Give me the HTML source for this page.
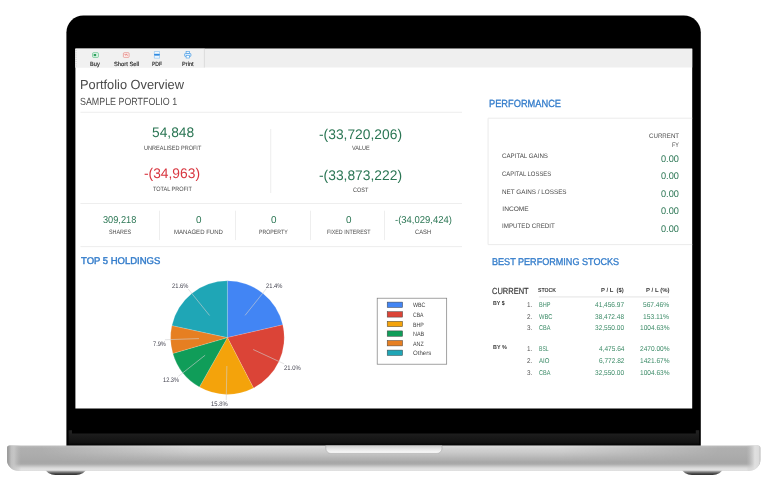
<!DOCTYPE html>
<html lang="en">
<head>
<meta charset="utf-8">
<title>Portfolio Overview</title>
<style>
html,body{margin:0;padding:0;background:#fff;}
body{width:768px;height:499px;position:relative;overflow:hidden;font-family:"Liberation Sans",sans-serif;}
.abs{position:absolute;}
.t{position:absolute;transform-origin:0 0;white-space:pre;line-height:1;text-rendering:geometricPrecision;font-family:"Liberation Sans",sans-serif;}
</style>
</head>
<body>
<svg class="abs" style="left:0;top:0" width="768" height="499" viewBox="0 0 768 499">
 <defs>
  <linearGradient id="gb" x1="0" y1="0" x2="0" y2="1">
   <stop offset="0" stop-color="#c0c0c0"/><stop offset=".045" stop-color="#b6b6b6"/><stop offset=".1" stop-color="#afafaf"/><stop offset=".3" stop-color="#adadad"/>
   <stop offset=".5" stop-color="#aaaaaa"/><stop offset=".64" stop-color="#a7a7a7"/><stop offset=".73" stop-color="#a9a9a9"/>
   <stop offset=".81" stop-color="#c2c2c2"/><stop offset=".89" stop-color="#dadada"/><stop offset=".96" stop-color="#e2e2e2"/><stop offset="1" stop-color="#d0d0d0"/>
  </linearGradient>
  <linearGradient id="gc" x1="0" y1="0" x2="0" y2="1">
   <stop offset="0" stop-color="#fff" stop-opacity=".42"/><stop offset=".08" stop-color="#fff" stop-opacity=".5"/><stop offset=".4" stop-color="#fff" stop-opacity=".36"/>
   <stop offset=".7" stop-color="#fff" stop-opacity=".16"/><stop offset="1" stop-color="#fff" stop-opacity="0"/>
  </linearGradient>
  <linearGradient id="gm" gradientUnits="userSpaceOnUse" x1="0" y1="0" x2="768" y2="0">
   <stop offset="0.05" stop-color="#000"/><stop offset=".25" stop-color="#fff"/><stop offset=".73" stop-color="#fff"/><stop offset=".94" stop-color="#000"/>
  </linearGradient>
  <mask id="mk" maskUnits="userSpaceOnUse" x="0" y="440" width="768" height="40"><rect x="0" y="440" width="768" height="40" fill="url(#gm)"/></mask>
  <linearGradient id="gl" x1="0" y1="0" x2="1" y2="0">
   <stop offset="0" stop-color="#9a9a9a" stop-opacity="1"/><stop offset=".12" stop-color="#a2a2a2" stop-opacity="1"/><stop offset=".3" stop-color="#c0c0c0" stop-opacity="1"/>
   <stop offset=".5" stop-color="#c8c8c8" stop-opacity=".9"/><stop offset=".75" stop-color="#c2c2c2" stop-opacity=".45"/><stop offset="1" stop-color="#b8b8b8" stop-opacity="0"/>
  </linearGradient>
  <linearGradient id="gr" x1="1" y1="0" x2="0" y2="0">
   <stop offset="0" stop-color="#c2c2c2" stop-opacity="1"/><stop offset=".14" stop-color="#dcdcdc" stop-opacity="1"/>
   <stop offset=".4" stop-color="#e2e2e2" stop-opacity=".95"/><stop offset=".7" stop-color="#d2d2d2" stop-opacity=".5"/><stop offset="1" stop-color="#c0c0c0" stop-opacity="0"/>
  </linearGradient>
  <linearGradient id="gh" x1="0" y1="0" x2="0" y2="1"><stop offset="0" stop-color="#222"/><stop offset=".3" stop-color="#1c1c1c"/><stop offset=".8" stop-color="#121212"/><stop offset="1" stop-color="#030303"/></linearGradient>
  <linearGradient id="gf" x1="0" y1="0" x2="0" y2="1"><stop offset="0" stop-color="#b8b8b8"/><stop offset=".3" stop-color="#9a9a9a"/><stop offset=".62" stop-color="#555"/><stop offset="1" stop-color="#2e2e2e"/></linearGradient>
  <linearGradient id="gn" x1="0" y1="0" x2="0" y2="1"><stop offset="0" stop-color="#d0d0d0"/><stop offset=".45" stop-color="#e6e6e6"/><stop offset=".8" stop-color="#f5f5f5"/><stop offset="1" stop-color="#fafafa"/></linearGradient>
  <clipPath id="cb"><path d="M9.5,445.5H757.9a2.5,2.5 0 0 1 2.5,2.5V459.8a11,11 0 0 1 -11,11H18a11,11 0 0 1 -11,-11V448a2.5,2.5 0 0 1 2.5,-2.5Z"/></clipPath>
 </defs>
 <!-- lid -->
 <path d="M66.4,446.5V32.4a17,17 0 0 1 17,-17H683.8a17,17 0 0 1 17,17V446.5Z" fill="#000"/>
 <path d="M68.6,430.3h3.4v3.3H695.8v-3.3h3.3V443.4a2,2 0 0 1 -2,2H70.6a2,2 0 0 1 -2,-2Z" fill="url(#gh)"/>
 <!-- feet -->
 <path d="M45.5,470.2h40.5c-2.5,3.2 -6,4.8 -12,4.8h-16.5c-6,0 -9.5,-1.6 -12,-4.8Z" fill="url(#gf)"/>
 <path d="M682,470.2h40.5c-2.5,3.2 -6,4.8 -12,4.8h-16.5c-6,0 -9.5,-1.6 -12,-4.8Z" fill="url(#gf)"/>
 <!-- base -->
 <path d="M9.5,445.5H757.9a2.5,2.5 0 0 1 2.5,2.5V459.8a11,11 0 0 1 -11,11H18a11,11 0 0 1 -11,-11V448a2.5,2.5 0 0 1 2.5,-2.5Z" fill="url(#gb)"/>
 <g clip-path="url(#cb)">
  <rect x="7" y="445.3" width="754" height="17.2" fill="url(#gc)" mask="url(#mk)"/>
  <rect x="7" y="445" width="14" height="27" fill="url(#gl)"/>
  <rect x="746.4" y="445" width="14" height="27" fill="url(#gr)"/>
 </g>
 <!-- notch -->
 <path d="M325.8,445.5H442v2.9a5,5 0 0 1 -5,5H330.8a5,5 0 0 1 -5,-5Z" fill="url(#gn)" stroke="#9c9c9c" stroke-width=".5"/>
 <!-- screen -->
 <rect x="75.4" y="48.7" width="616.8" height="359.8" fill="#fff"/>
 <!-- toolbar -->
 <rect x="75.4" y="48.7" width="616.8" height="18.8" fill="#efefef"/>
 <rect x="75.4" y="48.7" width="128.8" height="18.8" fill="#f1f1f1"/>
 <rect x="203.9" y="48.7" width="0.9" height="18.8" fill="#dadada"/>
 <!-- grip -->
 <g fill="#b5b5b5">
  <rect x="75.6" y="50.2" width="0.8" height="0.8"/><rect x="75.6" y="52.4" width="0.8" height="0.8"/><rect x="75.6" y="54.6" width="0.8" height="0.8"/><rect x="75.6" y="56.8" width="0.8" height="0.8"/><rect x="75.6" y="59" width="0.8" height="0.8"/><rect x="75.6" y="61.2" width="0.8" height="0.8"/><rect x="75.6" y="63.4" width="0.8" height="0.8"/><rect x="75.6" y="65.6" width="0.8" height="0.8"/>
 </g>
 <!-- buy icon -->
 <rect x="92.6" y="52.7" width="5.8" height="4.7" rx="0.9" fill="#e6f8ed" stroke="#4dbd7c" stroke-width="0.65"/>
 <rect x="93.7" y="54" width="2.5" height="2.1" fill="#2f9f5e"/>
 <!-- short sell icon -->
 <rect x="123.4" y="52.7" width="5.7" height="4.7" rx="0.9" fill="#fdf0ef" stroke="#e2827c" stroke-width="0.65"/>
 <path d="M124.6 53.9 L125.8 55.3 L126.6 54.3 L127.8 55.4" fill="none" stroke="#d9534f" stroke-width="0.75"/>
 <!-- pdf icon -->
 <path d="M154.4 51.5h5.1v2.4h-5.1zM154.4 55.6h5.1v2.6h-5.1z" fill="#f4f9fe" stroke="#6db4ee" stroke-width="0.5"/>
 <rect x="154.1" y="54" width="5.7" height="1.5" fill="#2f8ae2"/>
 <!-- print icon -->
 <rect x="186.1" y="51.4" width="3.3" height="2.2" fill="#fff" stroke="#4a9fe6" stroke-width="0.65"/>
 <rect x="184.6" y="53.4" width="6.3" height="3.1" rx="0.9" fill="#dcecfb" stroke="#3f97e3" stroke-width="0.7"/>
 <rect x="186.1" y="55.4" width="3.3" height="2.6" fill="#fff" stroke="#4a9fe6" stroke-width="0.65"/>

 <!-- dividers -->
 <g fill="#ececec">
  <rect x="80.4" y="111.8" width="381.6" height="0.9"/>
  <rect x="80.4" y="203.0" width="381.6" height="0.9"/>
  <rect x="80.4" y="246.2" width="381.6" height="0.9"/>
  <rect x="270.3" y="129" width="0.9" height="64"/>
  <rect x="159.0" y="210.7" width="0.9" height="29.4"/>
  <rect x="235.1" y="210.7" width="0.9" height="29.4"/>
  <rect x="310.1" y="210.7" width="0.9" height="29.4"/>
  <rect x="384.0" y="210.7" width="0.9" height="29.4"/>
 </g>
 <!-- performance box -->
 <path d="M692.2,118.2H488.1V244.6H692.2" fill="none" stroke="#e9e9e9" stroke-width="0.9"/>
 <!-- table underline -->
 <rect x="538.9" y="296.5" width="130.2" height="0.9" fill="#e0e0e0"/>

 <!-- pie -->
 <path d="M227.40,337.60L227.40,280.80A56.8,56.8 0 0 1 282.75,324.86Z" fill="#4285f4" stroke="rgba(255,255,255,0.35)" stroke-width="0.45"/>
<path d="M227.40,337.60L282.75,324.86A56.8,56.8 0 0 1 253.50,388.05Z" fill="#db4437" stroke="rgba(255,255,255,0.35)" stroke-width="0.45"/>
<path d="M227.40,337.60L253.50,388.05A56.8,56.8 0 0 1 199.41,387.03Z" fill="#f4a30b" stroke="rgba(255,255,255,0.35)" stroke-width="0.45"/>
<path d="M227.40,337.60L199.41,387.03A56.8,56.8 0 0 1 172.86,353.45Z" fill="#109d59" stroke="rgba(255,255,255,0.35)" stroke-width="0.45"/>
<path d="M227.40,337.60L172.86,353.45A56.8,56.8 0 0 1 171.89,325.56Z" fill="#e67f22" stroke="rgba(255,255,255,0.35)" stroke-width="0.45"/>
<path d="M227.40,337.60L171.89,325.56A56.8,56.8 0 0 1 227.40,280.80Z" fill="#1fa6b6" stroke="rgba(255,255,255,0.35)" stroke-width="0.45"/>
<line x1="245.09" y1="315.38" x2="266.31" y2="288.72" stroke="#d0d0d0" stroke-width="0.6"/>
<line x1="253.17" y1="349.53" x2="284.10" y2="363.85" stroke="#d0d0d0" stroke-width="0.6"/>
<line x1="226.86" y1="365.99" x2="226.22" y2="400.07" stroke="#d0d0d0" stroke-width="0.6"/>
<line x1="205.12" y1="355.22" x2="178.39" y2="376.36" stroke="#d0d0d0" stroke-width="0.6"/>
<line x1="199.02" y1="338.58" x2="164.96" y2="339.76" stroke="#d0d0d0" stroke-width="0.6"/>
<line x1="209.57" y1="315.49" x2="188.18" y2="288.96" stroke="#d0d0d0" stroke-width="0.6"/>
 <!-- legend -->
 <rect x="377.2" y="298.2" width="69.5" height="66" fill="#fff" stroke="#7a7a7a" stroke-width="0.7"/>
 <g stroke="#444" stroke-width="0.5">
  <rect x="387.2" y="302.1" width="15.4" height="5.4" fill="#4285f4"/>
  <rect x="387.2" y="311.7" width="15.4" height="5.4" fill="#db4437"/>
  <rect x="387.2" y="321.3" width="15.4" height="5.4" fill="#f4a30b"/>
  <rect x="387.2" y="330.9" width="15.4" height="5.4" fill="#109d59"/>
  <rect x="387.2" y="340.5" width="15.4" height="5.4" fill="#e67f22"/>
  <rect x="387.2" y="350.1" width="15.4" height="5.4" fill="#1fa6b6"/>
 </g>
</svg>

<span class="t" style="left:90.40px;top:62px;font-size:6.0px;color:#2a2a2a;-webkit-text-stroke:.16px #2a2a2a;transform:scaleX(0.9378);">Buy</span>
<span class="t" style="left:113.60px;top:62px;font-size:6.0px;color:#2a2a2a;-webkit-text-stroke:.16px #2a2a2a;transform:scaleX(0.9648);">Short Sell</span>
<span class="t" style="left:151.90px;top:62px;font-size:6.0px;color:#2a2a2a;-webkit-text-stroke:.16px #2a2a2a;transform:scaleX(0.8417);">PDF</span>
<span class="t" style="left:182.00px;top:62px;font-size:6.0px;color:#2a2a2a;-webkit-text-stroke:.16px #2a2a2a;transform:scaleX(0.9478);">Print</span>
<span class="t" style="left:80.40px;top:78px;font-size:13.2px;color:#4a4a4a;transform:scaleX(0.9718);">Portfolio Overview</span>
<span class="t" style="left:80.40px;top:98px;font-size:10.4px;color:#505050;transform:scaleX(0.8550);">SAMPLE PORTFOLIO 1</span>
<span class="t" style="left:151.50px;top:125px;font-size:14.0px;color:#2b7654;transform:scaleX(0.9853);">54,848</span>
<span class="t" style="left:143.70px;top:146px;font-size:6.3px;color:#4a4a4a;transform:scaleX(0.8805);">UNREALISED PROFIT</span>
<span class="t" style="left:144.20px;top:166px;font-size:14.0px;color:#d8353f;transform:scaleX(0.9857);">-(34,963)</span>
<span class="t" style="left:152.70px;top:187px;font-size:6.3px;color:#4a4a4a;transform:scaleX(0.8753);">TOTAL PROFIT</span>
<span class="t" style="left:319.30px;top:127px;font-size:14.0px;color:#2b7654;transform:scaleX(0.9874);">-(33,720,206)</span>
<span class="t" style="left:352.10px;top:146px;font-size:6.3px;color:#4a4a4a;transform:scaleX(0.8768);">VALUE</span>
<span class="t" style="left:319.30px;top:168px;font-size:14.0px;color:#2b7654;transform:scaleX(0.9874);">-(33,873,222)</span>
<span class="t" style="left:353.30px;top:188px;font-size:6.3px;color:#4a4a4a;transform:scaleX(0.8800);">COST</span>
<span class="t" style="left:102.90px;top:216px;font-size:10.0px;color:#2b7654;transform:scaleX(0.9210);">309,218</span>
<span class="t" style="left:108.60px;top:230px;font-size:6.3px;color:#4a4a4a;transform:scaleX(0.8569);">SHARES</span>
<span class="t" style="left:195.50px;top:216px;font-size:10.0px;color:#2b7654;transform:scaleX(0.9888);">0</span>
<span class="t" style="left:173.80px;top:230px;font-size:6.3px;color:#4a4a4a;transform:scaleX(0.9574);">MANAGED FUND</span>
<span class="t" style="left:270.80px;top:216px;font-size:10.0px;color:#2b7654;transform:scaleX(0.9888);">0</span>
<span class="t" style="left:259.30px;top:230px;font-size:6.3px;color:#4a4a4a;transform:scaleX(0.8311);">PROPERTY</span>
<span class="t" style="left:345.50px;top:216px;font-size:10.0px;color:#2b7654;transform:scaleX(0.9888);">0</span>
<span class="t" style="left:326.50px;top:230px;font-size:6.3px;color:#4a4a4a;transform:scaleX(0.8476);">FIXED INTEREST</span>
<span class="t" style="left:394.80px;top:216px;font-size:10.0px;color:#2b7654;transform:scaleX(0.9476);">-(34,029,424)</span>
<span class="t" style="left:415.20px;top:230px;font-size:6.3px;color:#4a4a4a;transform:scaleX(0.9257);">CASH</span>
<span class="t" style="left:488.50px;top:100px;font-size:10.4px;color:#347dcb;-webkit-text-stroke:.32px #347dcb;transform:scaleX(0.8908);">PERFORMANCE</span>
<span class="t" style="left:648.90px;top:134px;font-size:6.6px;color:#4a4a4a;transform:scaleX(0.9333);">CURRENT</span>
<span class="t" style="left:672.10px;top:143px;font-size:6.6px;color:#4a4a4a;transform:scaleX(0.8178);">FY</span>
<span class="t" style="left:502.30px;top:154px;font-size:6.6px;color:#4a4a4a;transform:scaleX(0.9367);">CAPITAL GAINS</span>
<span class="t" style="left:661.20px;top:155px;font-size:9.7px;color:#2b7654;transform:scaleX(0.9438);">0.00</span>
<span class="t" style="left:502.30px;top:172px;font-size:6.6px;color:#4a4a4a;transform:scaleX(0.8951);">CAPITAL LOSSES</span>
<span class="t" style="left:661.20px;top:172px;font-size:9.7px;color:#2b7654;transform:scaleX(0.9438);">0.00</span>
<span class="t" style="left:502.30px;top:190px;font-size:6.6px;color:#4a4a4a;transform:scaleX(0.9597);">NET GAINS / LOSSES</span>
<span class="t" style="left:661.20px;top:190px;font-size:9.7px;color:#2b7654;transform:scaleX(0.9438);">0.00</span>
<span class="t" style="left:502.30px;top:207px;font-size:6.6px;color:#4a4a4a;">INCOME</span>
<span class="t" style="left:661.20px;top:207px;font-size:9.7px;color:#2b7654;transform:scaleX(0.9438);">0.00</span>
<span class="t" style="left:502.30px;top:224px;font-size:6.6px;color:#4a4a4a;transform:scaleX(0.9421);">IMPUTED CREDIT</span>
<span class="t" style="left:661.20px;top:225px;font-size:9.7px;color:#2b7654;transform:scaleX(0.9438);">0.00</span>
<span class="t" style="left:80.80px;top:257px;font-size:9.8px;color:#347dcb;-webkit-text-stroke:.42px #347dcb;transform:scaleX(0.9687);">TOP 5 HOLDINGS</span>
<span class="t" style="left:265.90px;top:284px;font-size:6.6px;color:#3d3d4a;transform:scaleX(0.8769);">21.4%</span>
<span class="t" style="left:172.20px;top:284px;font-size:6.6px;color:#3d3d4a;transform:scaleX(0.8769);">21.6%</span>
<span class="t" style="left:152.50px;top:342px;font-size:6.6px;color:#3d3d4a;transform:scaleX(0.8582);">7.9%</span>
<span class="t" style="left:163.00px;top:378px;font-size:6.6px;color:#3d3d4a;transform:scaleX(0.8555);">12.3%</span>
<span class="t" style="left:210.70px;top:402px;font-size:6.6px;color:#3d3d4a;transform:scaleX(0.8929);">15.8%</span>
<span class="t" style="left:284.00px;top:366px;font-size:6.6px;color:#3d3d4a;transform:scaleX(0.8929);">21.0%</span>
<span class="t" style="left:412.70px;top:303px;font-size:6.3px;color:#444;transform:scaleX(0.8502);">WBC</span>
<span class="t" style="left:412.70px;top:313px;font-size:6.3px;color:#444;transform:scaleX(0.8106);">CBA</span>
<span class="t" style="left:412.70px;top:323px;font-size:6.3px;color:#444;transform:scaleX(0.8338);">BHP</span>
<span class="t" style="left:412.70px;top:332px;font-size:6.3px;color:#444;transform:scaleX(0.8647);">NAB</span>
<span class="t" style="left:412.70px;top:342px;font-size:6.3px;color:#444;transform:scaleX(0.8565);">ANZ</span>
<span class="t" style="left:412.70px;top:351px;font-size:6.3px;color:#444;transform:scaleX(0.9626);">Others</span>
<span class="t" style="left:492.30px;top:258px;font-size:9.8px;color:#347dcb;-webkit-text-stroke:.32px #347dcb;transform:scaleX(0.9252);">BEST PERFORMING STOCKS</span>
<span class="t" style="left:492.40px;top:287px;font-size:8.8px;color:#333;-webkit-text-stroke:.16px #333;transform:scaleX(0.8532);">CURRENT</span>
<span class="t" style="left:538.30px;top:289px;font-size:5.8px;color:#3a3a3a;font-weight:700;transform:scaleX(0.8966);">STOCK</span>
<span class="t" style="left:601.10px;top:289px;font-size:5.8px;color:#3a3a3a;font-weight:700;transform:scaleX(1.0204);">P / L  ($)</span>
<span class="t" style="left:645.60px;top:289px;font-size:5.8px;color:#3a3a3a;font-weight:700;transform:scaleX(1.0372);">P / L (%)</span>
<span class="t" style="left:492.50px;top:302px;font-size:5.8px;color:#3a3a3a;font-weight:700;transform:scaleX(0.9143);">BY $</span>
<span class="t" style="left:492.50px;top:346px;font-size:5.8px;color:#3a3a3a;font-weight:700;transform:scaleX(0.9376);">BY %</span>
<span class="t" style="left:527.10px;top:302px;font-size:7.0px;color:#555;transform:scaleX(0.9070);">1.</span>
<span class="t" style="left:538.90px;top:302px;font-size:7.0px;color:#3a8a66;transform:scaleX(0.7913);">BHP</span>
<span class="t" style="left:594.90px;top:302px;font-size:7.0px;color:#3a8a66;transform:scaleX(0.9340);">41,456.97</span>
<span class="t" style="left:643.00px;top:302px;font-size:7.0px;color:#3a8a66;transform:scaleX(0.9443);">567.46%</span>
<span class="t" style="left:527.10px;top:314px;font-size:7.0px;color:#555;transform:scaleX(0.9070);">2.</span>
<span class="t" style="left:538.90px;top:314px;font-size:7.0px;color:#3a8a66;transform:scaleX(0.8260);">WBC</span>
<span class="t" style="left:594.90px;top:314px;font-size:7.0px;color:#3a8a66;transform:scaleX(0.9340);">38,472.48</span>
<span class="t" style="left:643.00px;top:314px;font-size:7.0px;color:#3a8a66;transform:scaleX(0.9622);">153.11%</span>
<span class="t" style="left:527.10px;top:325px;font-size:7.0px;color:#555;transform:scaleX(0.9070);">3.</span>
<span class="t" style="left:538.90px;top:325px;font-size:7.0px;color:#3a8a66;transform:scaleX(0.7913);">CBA</span>
<span class="t" style="left:594.90px;top:325px;font-size:7.0px;color:#3a8a66;transform:scaleX(0.9340);">32,550.00</span>
<span class="t" style="left:639.60px;top:325px;font-size:7.0px;color:#3a8a66;transform:scaleX(0.9356);">1004.63%</span>
<span class="t" style="left:527.10px;top:346px;font-size:7.0px;color:#555;transform:scaleX(0.9070);">1.</span>
<span class="t" style="left:538.90px;top:346px;font-size:7.0px;color:#3a8a66;transform:scaleX(0.7254);">BSL</span>
<span class="t" style="left:598.50px;top:346px;font-size:7.0px;color:#3a8a66;transform:scaleX(0.9358);">4,475.64</span>
<span class="t" style="left:639.60px;top:346px;font-size:7.0px;color:#3a8a66;transform:scaleX(0.9356);">2470.00%</span>
<span class="t" style="left:527.10px;top:358px;font-size:7.0px;color:#555;transform:scaleX(0.9070);">2.</span>
<span class="t" style="left:538.90px;top:358px;font-size:7.0px;color:#3a8a66;transform:scaleX(0.8622);">AIO</span>
<span class="t" style="left:598.50px;top:358px;font-size:7.0px;color:#3a8a66;transform:scaleX(0.9358);">6,772.82</span>
<span class="t" style="left:639.60px;top:358px;font-size:7.0px;color:#3a8a66;transform:scaleX(0.9356);">1421.67%</span>
<span class="t" style="left:527.10px;top:370px;font-size:7.0px;color:#555;transform:scaleX(0.9070);">3.</span>
<span class="t" style="left:538.90px;top:370px;font-size:7.0px;color:#3a8a66;transform:scaleX(0.7913);">CBA</span>
<span class="t" style="left:594.90px;top:370px;font-size:7.0px;color:#3a8a66;transform:scaleX(0.9340);">32,550.00</span>
<span class="t" style="left:639.60px;top:370px;font-size:7.0px;color:#3a8a66;transform:scaleX(0.9356);">1004.63%</span>
</body>
</html>
